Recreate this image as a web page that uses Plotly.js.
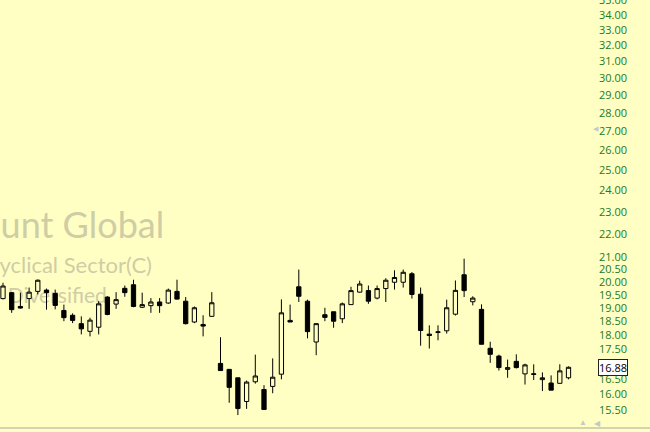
<!DOCTYPE html>
<html>
<head>
<meta charset="utf-8">
<script src="https://cdn.plot.ly/plotly-3.0.1.min.js"></script>
<style>
  html, body { margin: 0; padding: 0; background: #FFFFC4; }
  #chart { width: 650px; height: 432px; }
</style>
</head>
<body>
<div id="chart"></div>
<script>
const days = [1,2,3,4,5,6,7,8,9,10,11,12,13,14,15,16,17,18,19,20,21,22,23,24,25,26,27,28,29,30,31,32,33,34,35,36,37,38,39,40,41,42,43,44,45,46,47,48,49,50,51,52,53,54,55,56,57,58,59,60,61,62,63,64,65,66];
const openP = [19.35,19.58,19.05,19.35,19.63,19.68,19.55,18.90,18.72,18.41,18.13,18.28,19.41,19.14,19.75,19.89,19.02,19.08,19.22,19.18,19.63,19.25,18.47,18.38,18.68,17.01,16.81,16.53,15.77,16.40,16.15,16.25,16.65,18.53,19.81,19.25,17.75,18.74,18.85,18.59,19.12,19.60,19.66,19.37,19.74,19.99,19.99,20.33,19.52,18.03,18.09,18.15,18.76,20.29,19.23,18.94,17.53,17.26,16.81,17.08,16.66,16.64,16.47,16.36,16.35,16.53];
const highP = [19.97,19.60,19.58,19.78,20.10,19.74,19.70,19.12,18.79,18.68,18.63,19.25,19.44,19.60,19.86,20.09,19.58,19.37,19.37,19.74,20.09,19.41,19.05,18.72,19.60,17.92,16.81,16.53,16.44,17.31,16.29,17.18,19.32,19.12,20.50,19.31,18.43,19.00,18.85,19.20,19.81,20.05,19.86,19.86,20.15,20.47,20.50,20.40,19.78,18.35,18.35,19.31,20.06,20.95,19.44,19.13,17.76,17.31,17.14,17.32,17.00,16.98,16.71,16.61,16.98,16.91];
const lowP = [19.32,18.81,18.97,18.96,19.51,18.93,18.94,18.50,18.43,18.02,17.95,18.02,18.72,18.96,19.42,19.02,18.99,18.81,18.81,19.15,19.31,18.38,18.43,17.95,18.66,16.77,15.73,15.35,15.54,16.34,15.52,16.03,16.48,18.47,19.22,17.88,17.29,18.50,18.26,18.43,19.12,19.58,19.15,19.32,19.22,19.70,19.78,19.35,17.62,17.52,17.81,18.05,18.71,19.41,19.09,17.67,17.03,16.77,16.53,16.84,16.31,16.46,16.10,16.13,16.34,16.48];
const closeP = [19.84,18.93,18.99,19.60,20.07,19.58,19.09,18.63,18.53,18.22,18.54,19.15,18.75,19.31,19.58,19.05,19.12,19.22,19.08,19.68,19.33,18.41,19.00,18.32,19.19,16.77,16.22,15.55,16.39,16.59,15.52,16.55,18.81,18.47,19.44,18.12,18.41,18.64,18.50,19.15,19.66,19.92,19.25,19.74,20.07,20.18,20.39,19.51,18.16,17.98,18.11,19.00,19.67,19.66,19.37,17.67,17.32,16.87,16.87,16.87,16.96,16.66,16.53,16.13,16.76,16.88];
const tickValues = [15.5,16,16.5,17,17.5,18,18.5,19,19.5,20,20.5,21,22,23,24,25,26,27,28,29,30,31,32,33,34,35];
const tickLabels = ["15.50","16.00","16.50","17.00","17.50","18.00","18.50","19.00","19.50","20.00","20.50","21.00","22.00","23.00","24.00","25.00","26.00","27.00","28.00","29.00","30.00","31.00","32.00","33.00","34.00","35.00"];
const watermark = ["unt Global", "yclical Sector(C)", "Diversified"];

const BG = '#FFFFC4';
const plotH = 428;
function py(pix) { return 1 - pix / plotH; }

const trace = {
  type: 'candlestick',
  x: days,
  open: openP, high: highP, low: lowP, close: closeP,
  increasing: { line: { color: '#000000', width: 1 }, fillcolor: BG },
  decreasing: { line: { color: '#000000', width: 1 }, fillcolor: '#000000' },
  whiskerwidth: 0,
  hoverinfo: 'skip'
};

const wmColor = '#CFCDA6';
function wmShape(text, centerPix, size, x0) {
  return {
    type: 'rect', xref: 'paper', yref: 'paper', layer: 'below',
    x0: x0, x1: 0.6, y0: py(centerPix) - 0.005, y1: py(centerPix) + 0.005,
    line: { width: 0 }, fillcolor: 'rgba(0,0,0,0)',
    label: { text: text, textposition: 'middle left', padding: 0,
             font: { family: 'Lato, sans-serif', size: size, color: wmColor } }
  };
}

const lastClose = closeP[closeP.length - 1];

const layout = {
  width: 650, height: 432,
  margin: { l: 0, r: 52, t: 0, b: 4, pad: 0 },
  paper_bgcolor: BG, plot_bgcolor: BG,
  showlegend: false,
  xaxis: {
    range: [0.655, 69.39],
    showgrid: false, zeroline: false, showticklabels: false, ticks: '',
    showline: false, rangeslider: { visible: false }, fixedrange: true
  },
  yaxis: {
    type: 'log', side: 'right',
    range: [Math.log10(14.96), Math.log10(35.04)],
    tickmode: 'array', tickvals: tickValues, ticktext: tickLabels,
    ticklabeloverflow: 'allow',
    tickfont: { family: 'Open Sans, sans-serif', size: 11, color: '#237A23' },
    showgrid: false, zeroline: false, ticks: '', ticklen: 0, showline: false,
    fixedrange: true
  },
  shapes: [
    wmShape(watermark[0], 224, 36, -0.004),
    wmShape(watermark[1], 264, 22, -0.006),
    wmShape(watermark[2], 294, 21, 0.008),
    { type: 'line', xref: 'paper', yref: 'paper', x0: 0, x1: 650/598, y0: 0, y1: 0,
      line: { color: '#A8A8A0', width: 1 } }
  ],
  annotations: [
    { xref: 'paper', yref: 'y', x: 1, y: Math.log10(lastClose), xanchor: 'left', yanchor: 'middle',
      xshift: 0, text: lastClose.toFixed(2), showarrow: false,
      font: { family: 'Open Sans, sans-serif', size: 11, color: '#000000' },
      bgcolor: '#FFFFFF', bordercolor: '#222222', borderwidth: 1, borderpad: 0 },
    { xref: 'paper', yref: 'paper', x: 596/598, y: py(128), xanchor: 'center', yanchor: 'middle',
      text: '◀', showarrow: false, font: { size: 7, color: '#C8C8C8' } },
    { xref: 'paper', yref: 'paper', x: 583/598, y: py(421), xanchor: 'center', yanchor: 'middle',
      text: '▲', showarrow: false, font: { size: 8, color: '#C8C8C8' } },
    { xref: 'paper', yref: 'paper', x: 597/598, y: py(422), xanchor: 'center', yanchor: 'middle',
      text: '◀', showarrow: false, font: { size: 8, color: '#C8C8C8' } }
  ]
};

Plotly.newPlot('chart', [trace], layout, { displayModeBar: false, staticPlot: true });
</script>
</body>
</html>
